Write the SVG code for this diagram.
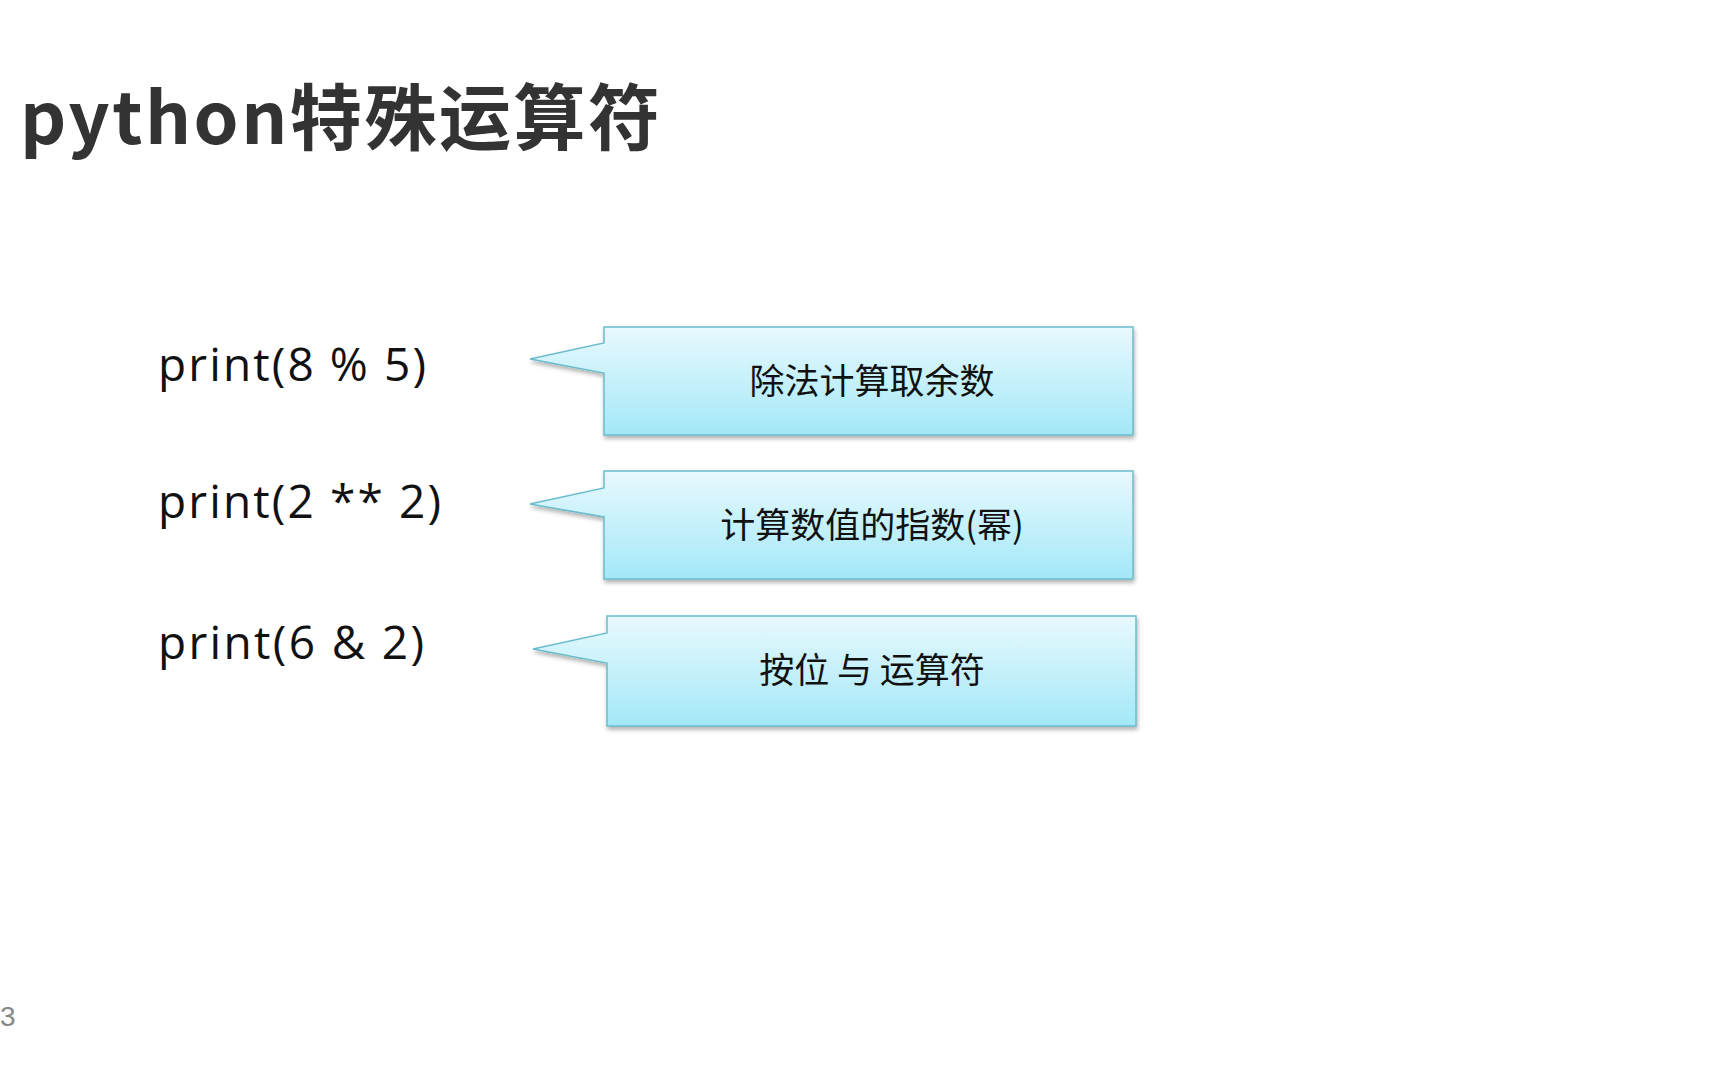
<svg xmlns="http://www.w3.org/2000/svg" width="1728" height="1080" viewBox="0 0 1728 1080">
<defs>
<linearGradient id="g" x1="0" y1="0" x2="0" y2="1"><stop offset="0" stop-color="#e8f9fd"/><stop offset="1" stop-color="#a3e8f8"/></linearGradient>
<filter id="sh" x="-5%" y="-5%" width="115%" height="125%"><feDropShadow dx="1" dy="3" stdDeviation="2" flood-color="#000" flood-opacity="0.3"/></filter>
</defs>
<style>
.call{fill:url(#g);stroke:#6bbccb;stroke-width:1.5;filter:url(#sh)}
.lbl{font-family:"Noto Sans CJK SC",sans-serif;font-size:35px;fill:#111;text-anchor:middle}
.code{font-family:"Open Sans","Noto Sans",sans-serif;font-size:46px;fill:#111}
</style>
<rect width="1728" height="1080" fill="#fff"/>
<text x="20" y="144" font-family="Noto Sans CJK SC,sans-serif" font-weight="bold" font-size="72" fill="#333" textLength="640">python特殊运算符</text>
<text x="0" y="1026" font-family="Liberation Sans,sans-serif" font-size="28" fill="#888">3</text>
<g id="code">
<text class="code" x="158" y="381" textLength="268">print(8 % 5)</text>
<text class="code" x="158" y="518" textLength="283">print(2 ** 2)</text>
<text class="code" x="158" y="659" textLength="266">print(6 &amp; 2)</text>
</g>
<g id="c1"><path class="call" d="M604 327H1133V435H604V373L530 359L604 343Z"/><text class="lbl" x="872" y="394">除法计算取余数</text></g>
<g id="c2"><path class="call" d="M604 471H1133V579H604V517L530 504L604 488Z"/><text class="lbl" x="872" y="538">计算数值的指数(幂)</text></g>
<g id="c3"><path class="call" d="M607 616H1136V726H607V663L533 649L607 633Z"/><text class="lbl" x="872" y="683">按位 与 运算符</text></g>
<g id="connectors"/>
</svg>
